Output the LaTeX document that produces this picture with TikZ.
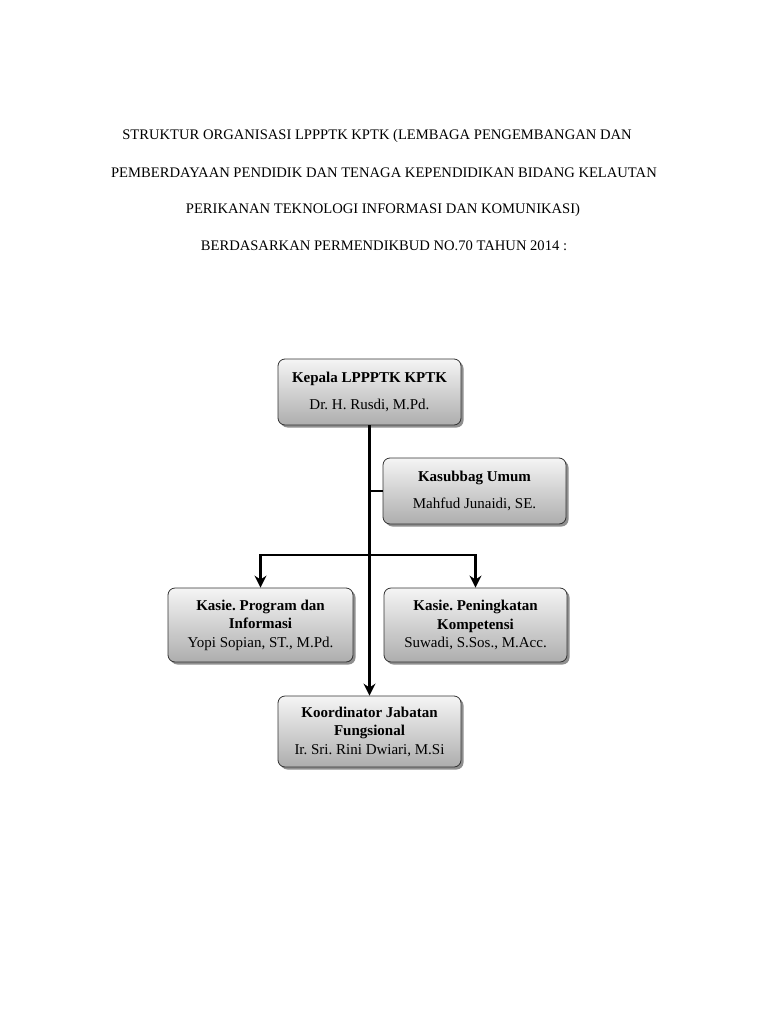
\documentclass[tikz,border=0pt]{standalone}
\usepackage{fontspec}
\setmainfont{Liberation Serif}
\frenchspacing
\usetikzlibrary{arrows.meta,shadows}
\begin{document}
\begin{tikzpicture}[x=1pt,y=-1pt,
    box/.style={draw=black!80, line width=0.8pt, rounded corners=7pt, align=center,
      top color=white!96!black, bottom color=black!32, font=\fontsize{15}{18.5}\selectfont,
      drop shadow={shadow xshift=2.5pt, shadow yshift=-2.5pt, fill=black!55, opacity=0.8},
      inner sep=2pt},
    link/.style={line width=2.8pt},
    arr/.style={link, -{Stealth[length=12pt, width=12pt, inset=4pt]}},
    head/.style={font=\fontsize{14.6}{17}\selectfont}]
  \useasboundingbox (0,0) rectangle (768,1024);
  % judul
  \node[head] (t1) at (377,136) {STRUKTUR ORGANISASI LPPPTK KPTK (LEMBAGA PENGEMBANGAN DAN};
  \node[head] (t2) at (384,173) {PEMBERDAYAAN PENDIDIK DAN TENAGA KEPENDIDIKAN BIDANG KELAUTAN};
  \node[head] (t3) at (383,210) {PERIKANAN TEKNOLOGI INFORMASI DAN KOMUNIKASI)};
  \node[head] (t4) at (384,246) {BERDASARKAN PERMENDIKBUD NO.70 TAHUN 2014 :};
  % kotak
  \node[box, minimum width=183, minimum height=66] (kepala) at (369.5,392)
    {\textbf{Kepala LPPPTK KPTK}\\[8pt] Dr. H. Rusdi, M.Pd.};
  \node[box, minimum width=183, minimum height=66] (kasubbag) at (474.5,491)
    {\textbf{Kasubbag Umum}\\[8pt] Mahfud Junaidi, SE.};
  \node[box, minimum width=185, minimum height=74] (program) at (260.5,625)
    {\textbf{Kasie. Program dan}\\ \textbf{Informasi}\\ Yopi Sopian, ST., M.Pd.};
  \node[box, minimum width=183, minimum height=74] (kompetensi) at (475.5,625)
    {\textbf{Kasie. Peningkatan}\\ \textbf{Kompetensi}\\ Suwadi, S.Sos., M.Acc.};
  \node[box, minimum width=183, minimum height=71] (koordinator) at (369.5,731.5)
    {\textbf{Koordinator Jabatan}\\ \textbf{Fungsional}\\ Ir. Sri. Rini Dwiari, M.Si};
  % garis
  \coordinate (split) at (369.5,555);
  \draw[arr] (kepala.south) -- (koordinator.north);
  \draw[link] (kepala.south |- kasubbag.west) -- (kasubbag.west);
  \draw[arr] (split) -| (program.north);
  \draw[arr] (split) -| (kompetensi.north);
\end{tikzpicture}
\end{document}
